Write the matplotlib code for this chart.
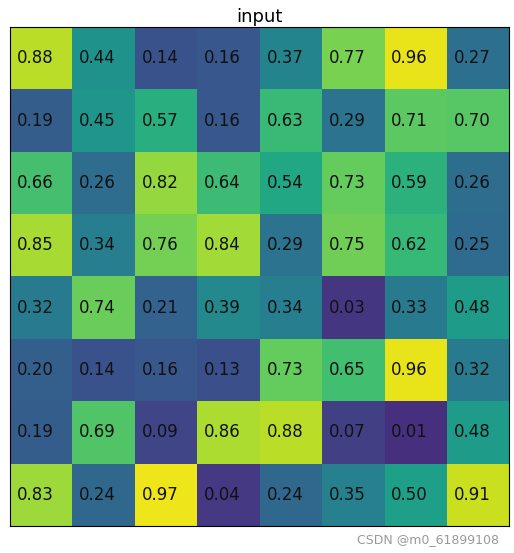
import numpy as np
import matplotlib.pyplot as plt

# 8x8 input values
row0 = [0.88, 0.44, 0.14, 0.16, 0.37, 0.77, 0.96, 0.27]
row1 = [0.19, 0.45, 0.57, 0.16, 0.63, 0.29, 0.71, 0.70]
row2 = [0.66, 0.26, 0.82, 0.64, 0.54, 0.73, 0.59, 0.26]
row3 = [0.85, 0.34, 0.76, 0.84, 0.29, 0.75, 0.62, 0.25]
row4 = [0.32, 0.74, 0.21, 0.39, 0.34, 0.03, 0.33, 0.48]
row5 = [0.20, 0.14, 0.16, 0.13, 0.73, 0.65, 0.96, 0.32]
row6 = [0.19, 0.69, 0.09, 0.86, 0.88, 0.07, 0.01, 0.48]
row7 = [0.83, 0.24, 0.97, 0.04, 0.24, 0.35, 0.50, 0.91]

data = np.array([row0, row1, row2, row3, row4, row5, row6, row7])

fig = plt.figure(figsize=(5.14, 5.53), dpi=100)
ax = fig.add_axes([0.0195, 0.049, 0.971, 0.902])
ax.imshow(data, cmap='viridis', vmin=-0.15, vmax=1.0, aspect='auto')

for i in range(data.shape[0]):
  for j in range(data.shape[1]):
    ax.text(j - 0.39, i, f'{data[i, j]:.2f}', ha='left', va='center',
            fontsize=12, color='#111111')

ax.set_xticks([])
ax.set_yticks([])
ax.set_title('input', fontsize=13, pad=4)

fig.text(0.97, 0.012, 'CSDN @m0_61899108', ha='right', va='bottom',
         fontsize=9, color='#999999')

fig.savefig('out.png', dpi=100)
